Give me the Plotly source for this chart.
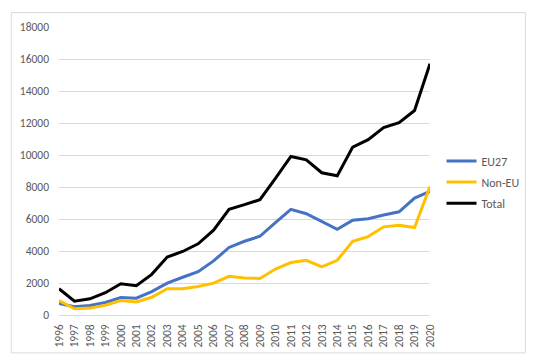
import plotly.graph_objects as go

years = [str(y) for y in range(1996, 2021)]
eu27 = [720, 510, 600, 780, 1090, 1050, 1460, 1990, 2360, 2710, 3380, 4220, 4610, 4920,
        5780, 6600, 6330, 5840, 5350, 5920, 6020, 6250, 6450, 7310, 7720]
non_eu = [900, 390, 430, 610, 900, 820, 1110, 1640, 1640, 1780, 1990, 2420, 2320, 2280,
          2870, 3280, 3420, 3010, 3420, 4610, 4900, 5510, 5610, 5470, 8030]
total = [1640, 860, 1010, 1390, 1950, 1830, 2540, 3620, 3970, 4450, 5300, 6600, 6900, 7210,
         8540, 9910, 9700, 8890, 8700, 10490, 10960, 11710, 12020, 12780, 15700]
y_ticks = list(range(0, 18001, 2000))
y_labels = [str(v) for v in y_ticks]

FONT = "Carlito, Calibri, Lato, Liberation Sans"
GREY = "#595959"

series = [("EU27", eu27, "#4472C4", "legend", 0.535),
          ("Non-EU", non_eu, "#FFC000", "legend2", 0.462),
          ("Total", total, "#000000", "legend3", 0.388)]

fig = go.Figure()
legends = {}
for name, vals, col, lg, ly in series:
    fig.add_trace(go.Scatter(x=years, y=vals, name=name, mode="lines",
                             line=dict(color=col, width=3), legend=lg))
    legends[lg] = dict(x=1.031, y=ly, xanchor="left", yanchor="middle",
                       font=dict(family=FONT, size=12, color=GREY), itemwidth=30,
                       bgcolor="rgba(0,0,0,0)")

fig.update_layout(
    width=528, height=352,
    margin=dict(l=44, r=103, t=15, b=44),
    paper_bgcolor="white", plot_bgcolor="white",
    font=dict(family=FONT, size=11.5, color=GREY),
    showlegend=True,
    xaxis=dict(type="category", showgrid=False, showline=False, zeroline=False,
               tickangle=-90, ticks="", ticklabelstandoff=6,
               tickfont=dict(size=11.5, color=GREY)),
    yaxis=dict(range=[0, 18000], tickvals=y_ticks, ticktext=y_labels,
               showgrid=True, gridcolor="#d9d9d9",
               gridwidth=1, zeroline=True, zerolinecolor="#d9d9d9", zerolinewidth=1,
               showline=False, ticks="", ticklabelstandoff=9,
               tickfont=dict(size=11.5, color=GREY)),
    **legends,
)

fig.add_shape(type="rect", xref="paper", yref="paper",
              x0=-0.1286, x1=1.257, y0=-0.1317, y1=1.050,
              line=dict(color="#d9d9d9", width=1), fillcolor="rgba(0,0,0,0)", layer="above")

fig.write_html("out.html")
